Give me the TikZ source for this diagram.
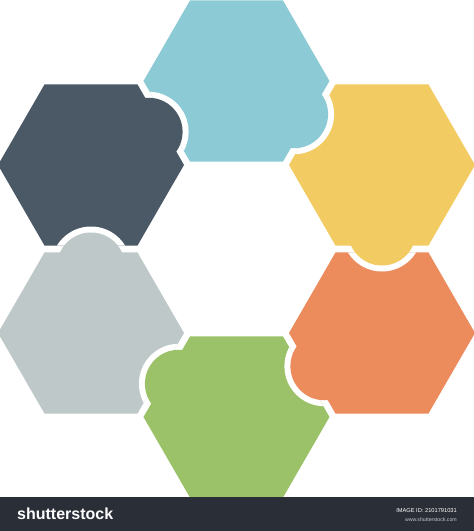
\documentclass[tikz,border=0pt]{standalone}
\usepackage{fontspec}
\setmainfont{Liberation Sans}

\definecolor{piecesky}{HTML}{8CCBD5}
\definecolor{piecesun}{HTML}{F2CC62}
\definecolor{piececoral}{HTML}{EC8B5C}
\definecolor{piecegrass}{HTML}{9BC268}
\definecolor{piecestone}{HTML}{BFC8C8}
\definecolor{pieceslate}{HTML}{4B5966}
\definecolor{barink}{HTML}{2A2E37}

\newcommand{\hexat}[1]{(#1) ++(0:93) -- ++(120:93) -- ++(180:93) -- ++(240:93) -- ++(300:93) -- ++(0:93) -- cycle}

\begin{document}
\begin{tikzpicture}[x=1pt,y=1pt]
  \tikzset{knob/.style={fill=#1},
           barlabel/.style={text=white,inner sep=0pt,anchor=base west}}
  \useasboundingbox (-236.5,-282) rectangle (237.5,249);
  \fill[white] (-236.5,-282) rectangle (237.5,249);
  % six pieces round the ring
  \foreach \ang/\col [count=\i] in {90/piecesky,30/piecesun,-30/piececoral,
                                    -90/piecegrass,-150/piecestone,150/pieceslate}{
    \coordinate (p\i) at (\ang:168);
    \fill[\col] \hexat{p\i};
  }
  % each piece hooks into the next one, clockwise
  \foreach \ang/\col [count=\i] in {90/piecesky,30/piecesun,-30/piececoral,
                                    -90/piecegrass,-150/piecestone,150/pieceslate}{
    \pgfmathtruncatemacro\j{mod(\i,6)+1}
    \path (p\i) ++(\ang-120:66.5) coordinate (k\i);
    \begin{scope}
      \clip \hexat{p\j};
      \fill[white] (k\i) circle (40pt);
    \end{scope}
    \fill[knob=\col] (k\i) circle (34pt);
  }
  % footer
  \fill[barink] (-236.5,-282) rectangle (237.5,-248);
  \node[barlabel,font=\bfseries\fontsize{16}{16}\selectfont] (logo) at (-219.5,-270) {shutterstock};
  \node[barlabel,anchor=base east,font=\fontsize{5.7}{6}\selectfont] (imgid) at (220.5,-263) {IMAGE ID: 2101791031};
  \node[barlabel,anchor=base east,text=white!75!barink,font=\fontsize{5.2}{6}\selectfont] (site) at (220.5,-272) {www.shutterstock.com};
\end{tikzpicture}
\end{document}
